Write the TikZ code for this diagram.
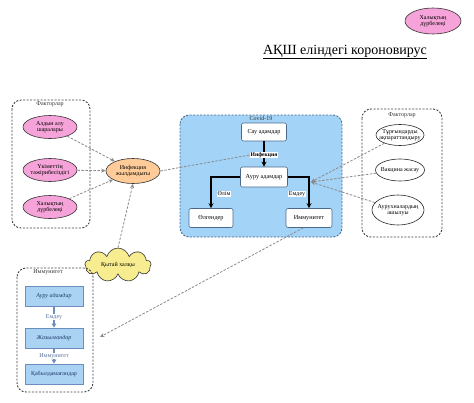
\documentclass[tikz,border=0pt]{standalone}
\usepackage{fontspec}
\setmainfont{Liberation Serif}
\usetikzlibrary{shapes.geometric,shapes.symbols,arrows.meta}
\definecolor{pinkf}{HTML}{F5A3D8}
\definecolor{orangef}{HTML}{FFCC99}
\definecolor{covidf}{HTML}{A3D3F7}
\definecolor{covidd}{HTML}{4A6A8C}
\definecolor{cloudf}{HTML}{F7EC8F}
\definecolor{bluef}{HTML}{A9D2F3}
\definecolor{blued}{HTML}{6C8EBF}
\definecolor{bluet}{HTML}{1F3A66}
\definecolor{conng}{HTML}{8A8A8A}
\begin{document}
\begin{tikzpicture}[x=1pt,y=-1pt,
  tiny/.style={font=\fontsize{6}{6.6}\selectfont},
  smalltxt/.style={font=\fontsize{6.2}{7}\selectfont},
  pinkell/.style={ellipse, draw=black!80, fill=pinkf, line width=0.6pt, minimum width=54, minimum height=23, inner xsep=-3pt, inner ysep=-1pt, align=center, tiny},
  whiteell/.style={ellipse, draw=black!85, fill=white, line width=0.6pt, inner xsep=-5pt, inner ysep=-1pt, align=center, tiny},
  grp/.style={draw=black!75, dash pattern=on 2pt off 1.5pt, line width=0.9pt, rounded corners=9},
  conn/.style={draw=conng, dash pattern=on 2.5pt off 1.5pt, line width=0.8pt, -{Stealth[length=4.5pt,width=4pt]}},
  connplain/.style={draw=conng, dash pattern=on 2.5pt off 1.5pt, line width=0.8pt},
  wbox/.style={draw=covidd, fill=white, rounded corners=2, line width=0.6pt, inner sep=0, smalltxt},
  thk/.style={draw=black, line width=1.7pt, -{Stealth[length=5pt,width=5pt]}},
  elbl/.style={fill=white, inner sep=0.6pt, tiny},
  bbox/.style={draw=blued, fill=bluef, line width=0.8pt, minimum width=58, minimum height=20, inner sep=0, text=bluet, tiny},
  barr/.style={draw=blued, line width=1.2pt, -{Triangle[length=4pt,width=4.5pt]}},
  blbl/.style={fill=white, inner sep=0.5pt, text=blued!80!black, tiny},
  grplbl/.style={tiny, text=black!80}
]
\useasboundingbox (0,0) rectangle (474,402);

% top-right ellipse and title
\node[pinkell, minimum width=56, minimum height=26] (hal) at (433,21) {Халықтың\\дүрбелеңі};
\node[font=\fontsize{14}{16}\selectfont] (title) at (345,52) {\underline{АҚШ еліндегі короновирус}};

% left factors group
\draw[grp] (12,100) rectangle (90,228);
\node[grplbl] (lf) at (50,104) {Факторлар};
\node[pinkell] (e1) at (50,127) {Алдын алу\\шаралары};
\node[pinkell] (e2) at (50,170) {Үкіметтің\\тәжірибесіздігі};
\node[pinkell] (e3) at (50,207) {Халықтың\\дүрбелеңі};

% infection ellipse
\node[ellipse, draw=black!80, fill=orangef, line width=0.6pt, minimum width=54, minimum height=25, inner xsep=-3pt, inner ysep=-1pt, align=center, tiny] (inf) at (133,171) {Инфекция\\жылдамдығы};

% covid group
\draw[grp, draw=covidd, fill=covidf] (180,115) rectangle (342,237);
\node[grplbl] (cl) at (261,118.5) {Covid-19};
\node[wbox, minimum width=45, minimum height=18] (sau) at (264,132) {Сау адамдар};
\node[wbox, minimum width=47, minimum height=20] (auru) at (264,177) {Ауру адамдар};
\node[wbox, minimum width=44, minimum height=19] (olg) at (211,218) {Өлгендер};
\node[wbox, minimum width=46, minimum height=19] (imm) at (309,218) {Иммунитет};
\draw[thk] (sau) -- (auru);
\node[elbl, font=\bfseries\fontsize{5.6}{6.2}\selectfont] (linf) at (264,155) {Инфекция};
\draw[thk] (auru.west) -| (olg.north);
\draw[thk] (auru.east) -| (imm.north);
\node[elbl] (lol) at (224,194) {Өлім};
\node[elbl] (lem) at (297,194) {Емдеу};

% right factors group
\draw[grp] (362,109) rectangle (442,237);
\node[grplbl] (rf) at (402,115) {Факторлар};
\node[whiteell, minimum width=48, minimum height=21] (r1) at (400,135) {Тұрғындарды\\ақпараттандыру};
\node[whiteell, minimum width=49, minimum height=22] (r2) at (400,170) {Вакцина жасау};
\node[whiteell, minimum width=52, minimum height=30] (r3) at (398,210) {Аурухналардың\\ашылуы};
\coordinate (cv) at (311,182);

% cloud
\node[cloud, cloud puffs=9, aspect=2.1, draw=black!80, fill=cloudf, line width=0.6pt, minimum width=66, minimum height=32, inner sep=0, tiny] (cloud) at (118,265) {Қытай халқы};

% immunity group
\draw[grp] (17,268) rectangle (93,392);
\node[grplbl] (il) at (48,272) {Иммунитет};
\node[bbox, font=\itshape\fontsize{6}{6.6}\selectfont] (b1) at (54,296) {Ауру адамдар};
\node[bbox, font=\itshape\fontsize{6}{6.6}\selectfont] (b2) at (54,338) {Жазылғандар};
\node[bbox] (b3) at (54,374) {Қабылдамағандар};
\draw[barr] (b1) -- (b2);
\draw[barr] (b2) -- (b3);
\node[blbl] (bl1) at (54,317) {Емдеу};
\node[blbl] (bl2) at (54,356) {Иммунитет};

% connectors
\draw[conn] (e1) -- (inf);
\draw[conn] (e2) -- (inf);
\draw[conn] (e3) -- (inf);
\draw[conn] (cloud.north) -- (inf.south);
\draw[connplain] (inf.east) -- (linf.west);
\draw[conn] (r1) -- (cv);
\draw[conn] (r2) -- (cv);
\draw[conn] (r3) -- (cv);
\coordinate (immend) at (100,337);
\draw[conn] (imm.240) -- (immend);
\end{tikzpicture}
\end{document}
